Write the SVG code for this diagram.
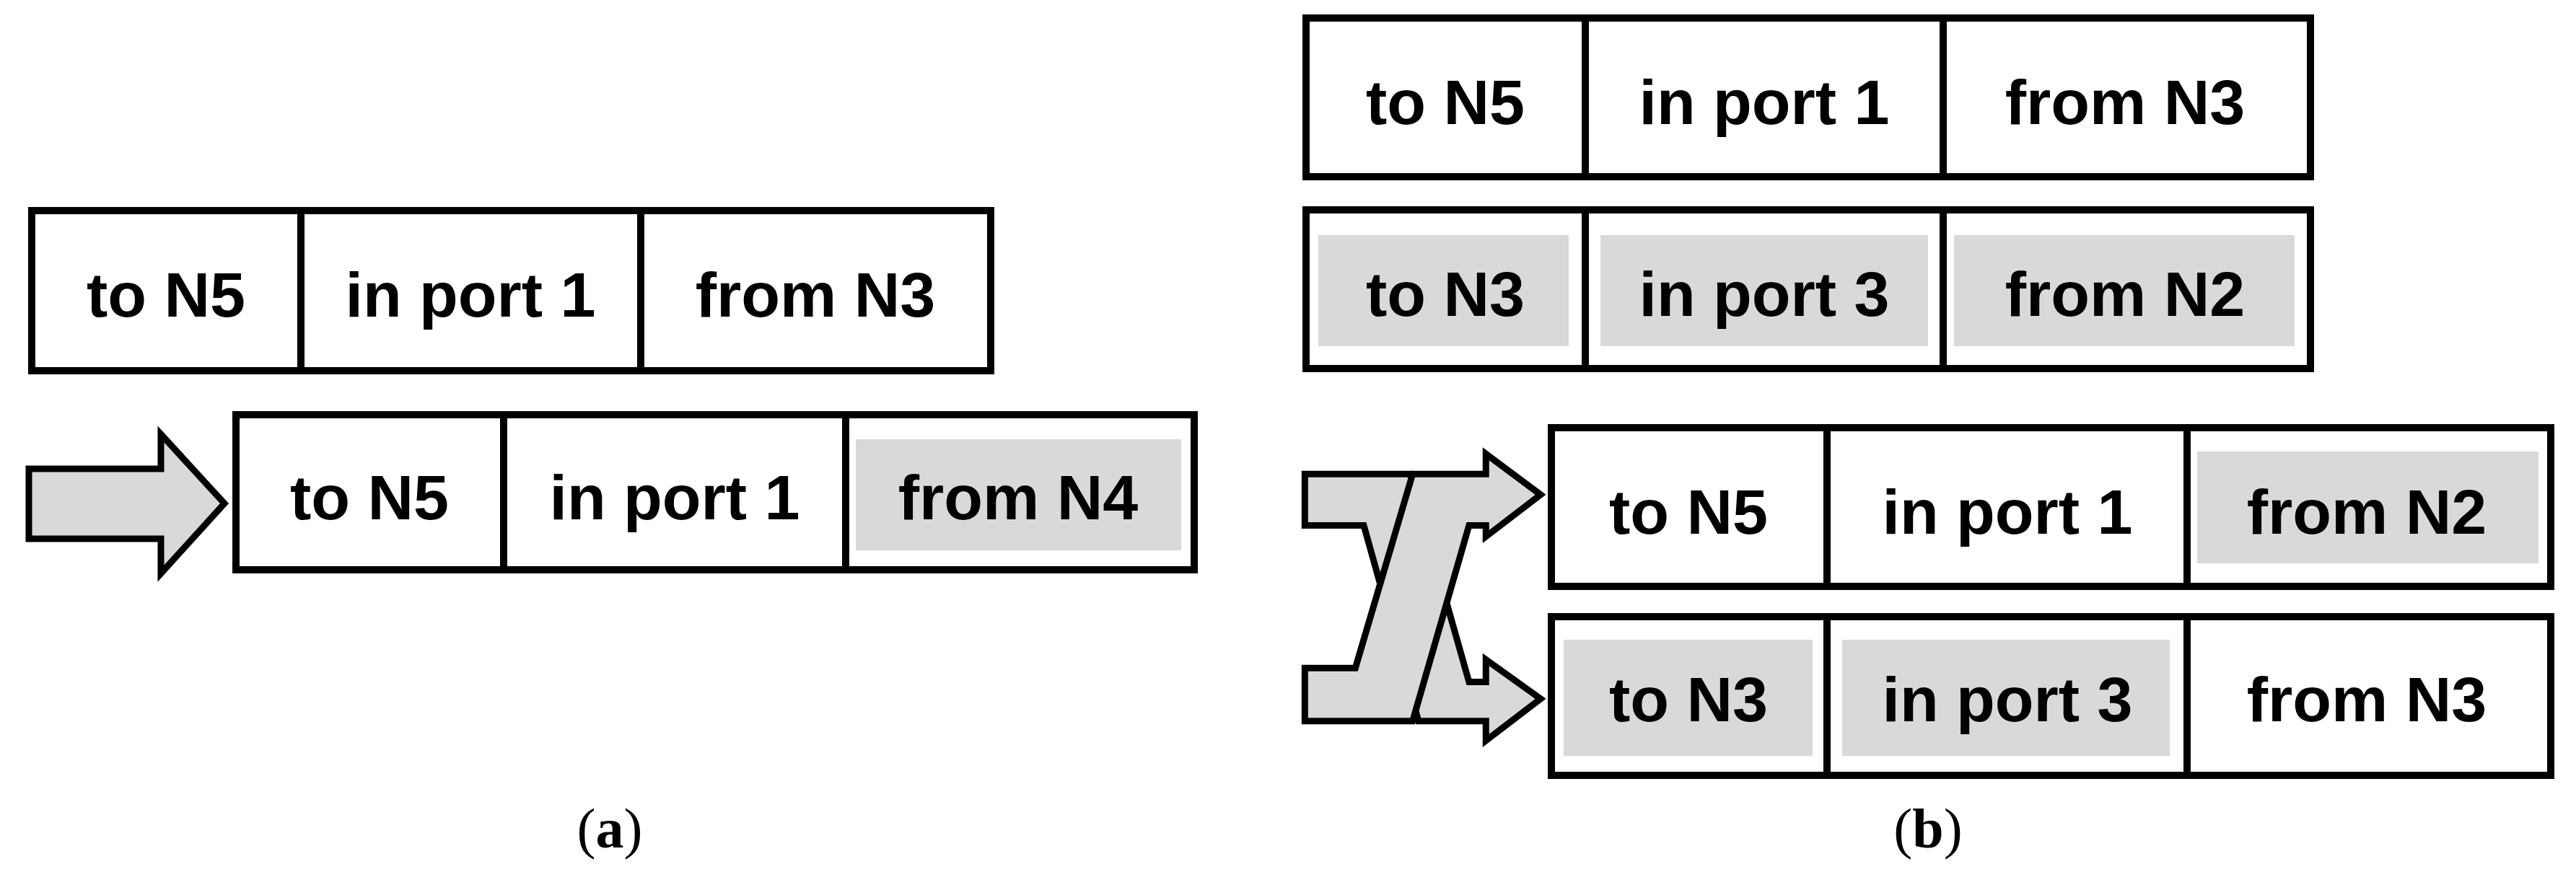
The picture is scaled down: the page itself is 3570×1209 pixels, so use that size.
<svg xmlns="http://www.w3.org/2000/svg" width="3570" height="1209" viewBox="0 0 3570 1209">
<style>
.box{fill:#fff;stroke:#000;stroke-width:10}
.div{stroke:#000;stroke-width:10}
.g{fill:#d9d9d9}
.t{font-family:"Liberation Sans",Arial,sans-serif;font-weight:bold;font-size:88px;text-anchor:middle;fill:#000}
.cap{font-family:"Liberation Serif",serif;font-size:78px;text-anchor:middle}
.arr{fill:#d9d9d9;stroke:#000;stroke-width:9;stroke-linejoin:miter}
</style>
<rect width="3570" height="1209" fill="#fff"/>
<g id="a-top">
<rect class="box" x="44" y="292" width="1329" height="222"/>
<line class="div" x1="417" y1="292" x2="417" y2="514"/><line class="div" x1="888" y1="292" x2="888" y2="514"/>
<text class="t" x="230" y="439">to N5</text><text class="t" x="652" y="439">in port 1</text><text class="t" x="1130" y="439">from N3</text>
</g>
<g id="a-bottom">
<rect class="box" x="327" y="575" width="1328" height="215"/>
<rect class="g" x="1186" y="609" width="451" height="154"/>
<line class="div" x1="698" y1="575" x2="698" y2="790"/><line class="div" x1="1172" y1="575" x2="1172" y2="790"/>
<text class="t" x="512" y="720">to N5</text><text class="t" x="935" y="720">in port 1</text><text class="t" x="1411" y="720">from N4</text>
</g>
<g id="connectors">
<polygon class="arr" points="40,650 223,650 223,602 311,698 223,795 223,747 40,747"/>
<g transform="translate(1750,0) scale(1.167,0.775)">
<polygon class="arr" vector-effect="non-scaling-stroke" style="stroke-width:9" points="50,848 175,848 245,1220 265,1220 265,1180 330,1250 265,1325 265,1290 185,1290 120,940 50,940"/>
<polygon class="arr" points="50,1195 110,1195 178,848 265,848 265,812 330,885 265,960 265,940 245,940 178,1290 50,1290" vector-effect="non-scaling-stroke"/>
</g>
</g>
<g id="b-1">
<rect class="box" x="1810" y="25" width="1392" height="220"/>
<line class="div" x1="2197" y1="25" x2="2197" y2="245"/><line class="div" x1="2693" y1="25" x2="2693" y2="245"/>
<text class="t" x="2003" y="172">to N5</text><text class="t" x="2445" y="172">in port 1</text><text class="t" x="2945" y="172">from N3</text>
</g>
<g id="b-2">
<rect class="box" x="1810" y="291" width="1392" height="220"/>
<rect class="g" x="1827" y="326" width="347" height="154"/><rect class="g" x="2218" y="326" width="454" height="154"/><rect class="g" x="2708" y="326" width="472" height="154"/>
<line class="div" x1="2197" y1="291" x2="2197" y2="511"/><line class="div" x1="2693" y1="291" x2="2693" y2="511"/>
<text class="t" x="2003" y="438">to N3</text><text class="t" x="2445" y="438">in port 3</text><text class="t" x="2945" y="438">from N2</text>
</g>
<g id="b-3">
<rect class="box" x="2150" y="593" width="1385" height="220"/>
<rect class="g" x="3045" y="626" width="473" height="155"/>
<line class="div" x1="2532" y1="593" x2="2532" y2="813"/><line class="div" x1="3031" y1="593" x2="3031" y2="813"/>
<text class="t" x="2340" y="740">to N5</text><text class="t" x="2782" y="740">in port 1</text><text class="t" x="3280" y="740">from N2</text>
</g>
<g id="b-4">
<rect class="box" x="2150" y="855" width="1385" height="220"/>
<rect class="g" x="2167" y="887" width="345" height="161"/><rect class="g" x="2553" y="887" width="454" height="161"/>
<line class="div" x1="2532" y1="855" x2="2532" y2="1075"/><line class="div" x1="3031" y1="855" x2="3031" y2="1075"/>
<text class="t" x="2340" y="1000">to N3</text><text class="t" x="2782" y="1000">in port 3</text><text class="t" x="3280" y="1000">from N3</text>
</g>
<text class="cap" x="845" y="1175">(<tspan font-weight="bold">a</tspan>)</text>
<text class="cap" x="2672" y="1175">(<tspan font-weight="bold">b</tspan>)</text>
</svg>
